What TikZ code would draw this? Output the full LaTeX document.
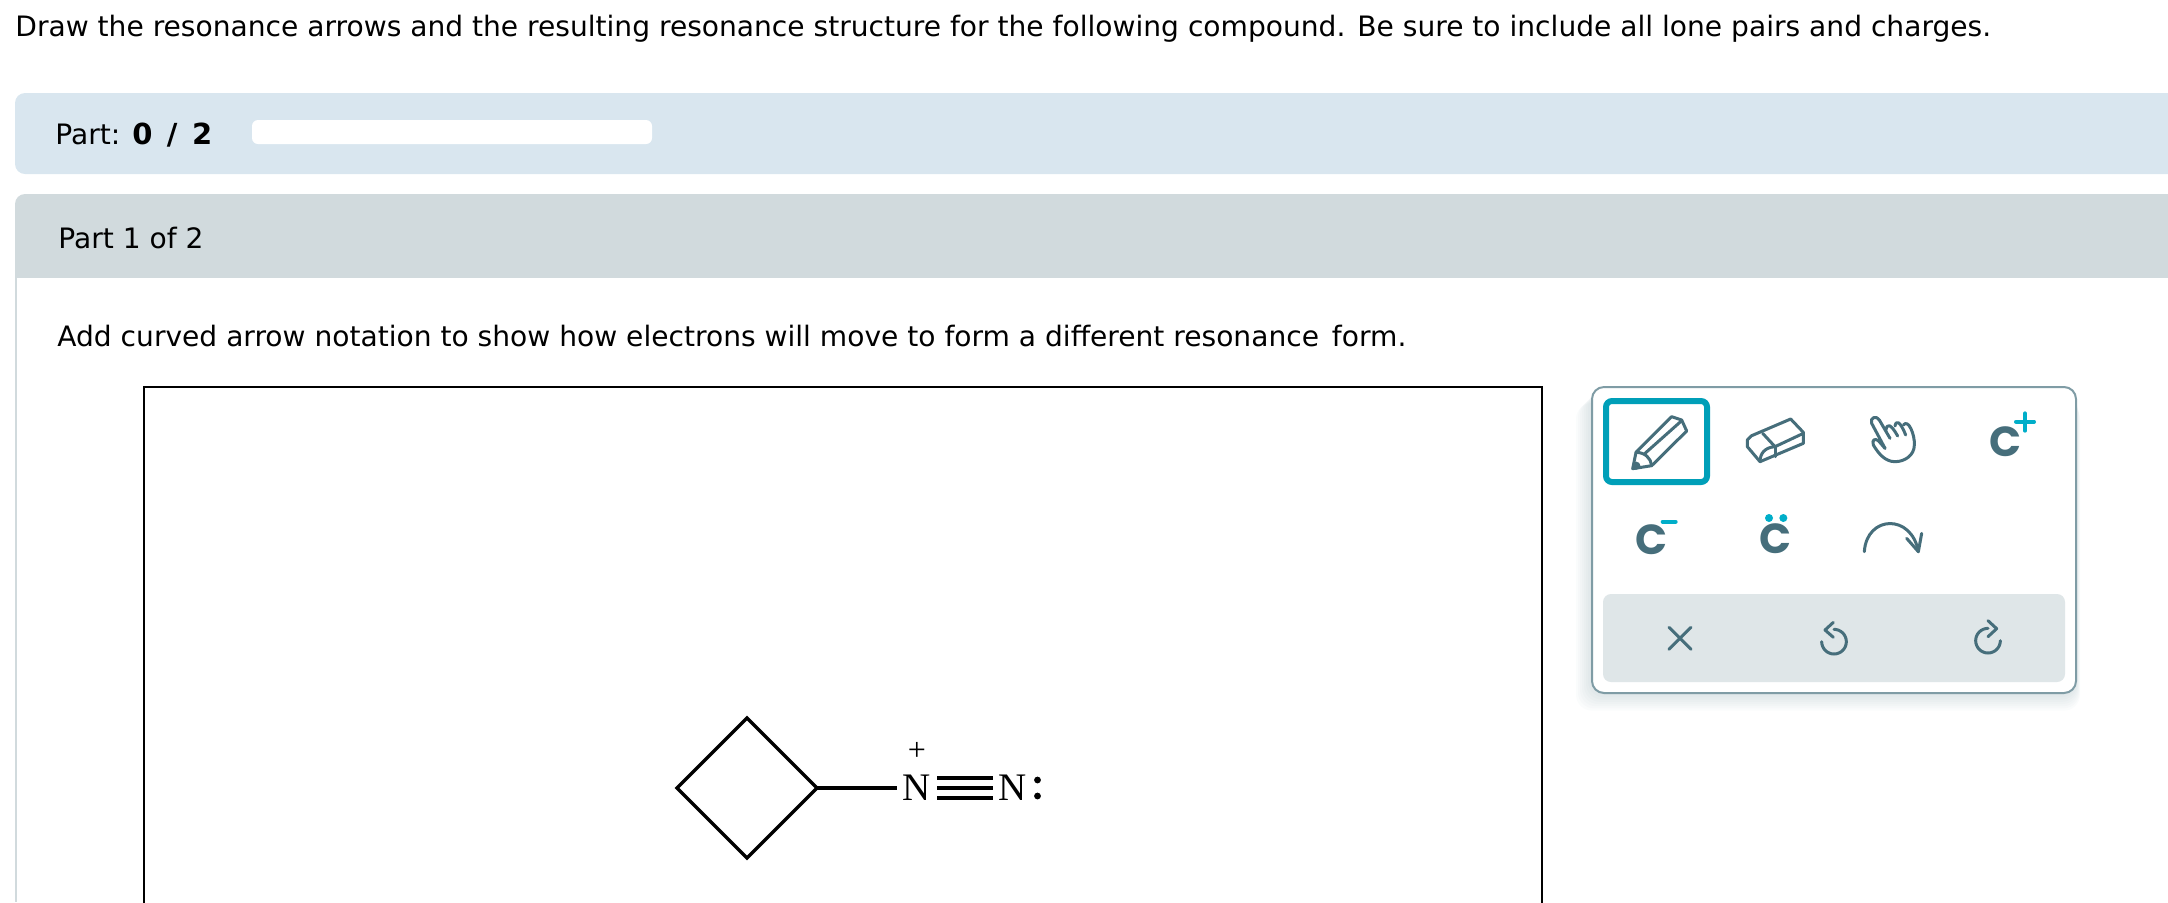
\documentclass[tikz,border=0pt]{standalone}
\usepackage{fontspec}
\usetikzlibrary{positioning}
\setmainfont{DejaVu Sans}
\newfontfamily\chemfont{Liberation Serif}
\newfontfamily\iconfont{Poppins}
\definecolor{partblue}{HTML}{D9E6EF}
\definecolor{partgray}{HTML}{D1DADD}
\definecolor{toolgray}{HTML}{DFE6E8}
\definecolor{toolline}{HTML}{7F9CA5}
\definecolor{iconcol}{HTML}{466E7B}
\definecolor{accent}{HTML}{009FB8}
\definecolor{chargecol}{HTML}{00AEC9}
\tikzset{
	pagetext/.style = {anchor = base west, inner sep = 0pt, font = \fontsize{14.05}{16}\selectfont},
	atom/.style = {inner sep = 0pt, font = \chemfont\fontsize{19.5}{20}\selectfont},
	bond/.style = {line width = 1.7pt, black},
	icon/.style = {line width = 1.5pt, iconcol, line join = round, line cap = round},
	iconletter/.style = {inner sep = 0pt, text = iconcol, font = \iconfont\bfseries\fontsize{21}{21}\selectfont},
	chargemark/.style = {line width = 2pt, chargecol, line cap = round}
}

\begin{document}
\begin{tikzpicture}[x = 0.5pt, y = -0.5pt]

	\useasboundingbox (0, 0) rectangle (2168, 902);
	\clip (0, 0) rectangle (2168, 902);

	\node[pagetext] (question) at (15, 36) {Draw the resonance arrows and the resulting resonance structure for the following compound. Be sure to include all lone pairs and charges.};

	% part bar
	\fill[partblue, rounded corners = 5pt] (15, 93) rectangle (2200, 174);
	\fill[white, rounded corners = 3pt] (252, 120) rectangle (652, 144);
	\node[pagetext] (partlabel) at (55, 144) {Part: \textbf{\fontsize{14.5}{16}\selectfont 0\,\,\,/\,\,\,2}};

	% part 1 frame
	\draw[partgray, line width = 1pt] (16, 270) -- (16, 902);
	\fill[partgray, rounded corners = 5pt] (15, 194) rectangle (2200, 300);
	\fill[white] (17, 278) rectangle (2200, 310);
	\node[pagetext] (parttitle) at (58, 248) {Part 1 of 2};
	\node[pagetext] (task) at (57, 346) {Add curved arrow notation to show how electrons will move to form a different resonance\hspace{2pt} form.};

	\draw[black, line width = 1pt] (144, 950) -- (144, 387) -- (1542, 387) -- (1542, 950);

	% molecule
	\coordinate (left) at (677, 788);
	\coordinate (top) at (747, 718);
	\coordinate (right) at (817, 788);
	\coordinate (bottom) at (747, 858);
	\node[atom] (Na) at (917, 788) {N};
	\node[atom] (Nb) at (1013, 788) {N};
	\node[inner sep = 0pt, font = \chemfont\fontsize{16}{16}\selectfont, above = 7pt of Na] (charge) {+};
	\draw[bond, line join = miter] (left) -- (top) -- (right) -- (bottom) -- cycle;
	\draw[bond, shorten >= 3pt] (right) -- (Na);
	\draw[bond, shorten <= 3pt, shorten >= 3pt] (Na.east) -- (Nb.west);
	\draw[bond, shorten <= 3pt, shorten >= 3pt] ([yshift = 5pt]Na.east) -- ([yshift = 5pt]Nb.west);
	\draw[bond, shorten <= 3pt, shorten >= 3pt] ([yshift = -5pt]Na.east) -- ([yshift = -5pt]Nb.west);
	\fill (1037.5, 780) circle (3.4);
	\fill (1037.5, 796) circle (3.4);

	% tool panel
	\foreach \g in {1, ..., 8} {
		\fill[toolline, opacity = 0.035, rounded corners = 8pt] (1592 - 2 * \g, 387 + 2 * \g) rectangle (2076 + 0.5 * \g, 693 + 2.2 * \g);
	}
	\draw[toolline, fill = white, line width = 1pt, rounded corners = 6pt] (1592, 387) rectangle (2076, 693);
	\draw[accent, line width = 3pt, rounded corners = 3pt] (1606, 401) rectangle (1707, 482);
	\fill[toolgray, rounded corners = 4pt] (1603, 594) rectangle (2065, 682);

	\begin{scope}[shift = {(1570, 370)}, scale = 1 / 3]

		% pencil
		\draw[icon] (188, 296) -- (198, 247) -- (305, 140) -- (335, 150) -- (350, 183) -- (245, 287) -- cycle;
		\draw[icon] (198, 247) .. controls (225, 247) and (243, 265) .. (245, 287);
		\draw[icon] (225, 250) -- (335, 152);
		\fill[iconcol] (199, 287) circle (12);

		% eraser
		\draw[icon] (532, 230) -- (532, 210) -- (545, 197) -- (662, 147) -- (700, 187) -- (700, 220) -- (570, 275) -- cycle;
		\draw[icon] (578, 190) -- (615, 230) -- (700, 190);
		\draw[icon] (615, 230) -- (615, 260);
		\draw[icon] (615, 230) .. controls (585, 232) and (570, 250) .. (570, 275);

		% hand
		\draw[icon] (945, 235) -- (905, 160) .. controls (898, 143) and (920, 135) .. (928, 150) -- (960, 205);
		\draw[icon] (948, 180) .. controls (950, 160) and (962, 160) .. (983, 198);
		\draw[icon] (975, 168) .. controls (978, 150) and (990, 152) .. (1007, 195);
		\draw[icon] (1000, 165) .. controls (1015, 145) and (1035, 195) .. (1033, 225) .. controls (1033, 255) and (1005, 275) .. (975, 275) .. controls (945, 275) and (925, 250) .. (910, 225) .. controls (905, 208) and (915, 205) .. (925, 212) -- (945, 235);

		% charges
		\node[iconletter] (cplus) at (1305, 215) {C};
		\draw[chargemark] (1338, 155) -- (1392, 155);
		\draw[chargemark] (1365, 130) -- (1365, 182);
		\node[iconletter] (cminus) at (243, 510) {C};
		\draw[chargemark] (278, 455) -- (317, 455);
		\node[iconletter] (cpair) at (617, 505) {C};
		\fill[chargecol] (597, 444) circle (12);
		\fill[chargecol] (640, 444) circle (12);

		% curved arrow
		\draw[icon] (883, 545) .. controls (890, 435) and (1025, 430) .. (1045, 545);
		\draw[icon] (1010, 505) -- (1045, 545) -- (1055, 490);

		% clear, undo, redo
		\draw[icon] (297, 772) -- (363, 838);
		\draw[icon] (363, 772) -- (297, 838);
		\draw[icon, smooth, domain = -90 : 180, variable = \t] plot ({792 + 37 * cos(\t)}, {815 + 37 * sin(\t)});
		\draw[icon] (790, 757) -- (765, 780) -- (790, 802);
		\draw[icon, smooth, domain = -360 : -90, variable = \t] plot ({1254 + 37 * cos(\t)}, {812 + 37 * sin(\t)});
		\draw[icon] (1254, 752) -- (1280, 776) -- (1254, 800);

	\end{scope}

\end{tikzpicture}
\end{document}
